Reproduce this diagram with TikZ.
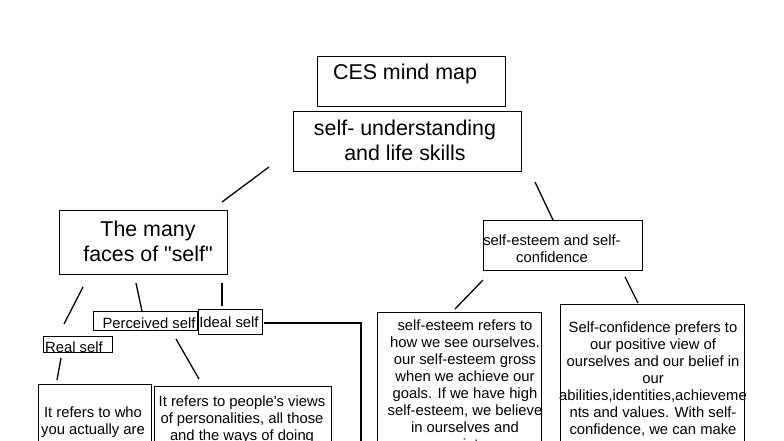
\documentclass[tikz,border=0pt]{standalone}
\usepackage{fontspec}
\setmainfont{Liberation Sans}[Ligatures=TeXOff]
\begin{document}
\begin{tikzpicture}[x=1pt,y=-1pt,
  bx/.style={draw, line width=1.4pt, inner sep=0pt, anchor=north west},
  big/.style={font=\fontsize{21.4}{24.6}\selectfont, align=center, inner sep=0pt, anchor=north},
  small/.style={font=\fontsize{14.8}{17}\selectfont, align=center, inner sep=0pt, anchor=north},
  link/.style={line width=1.3pt}]
\useasboundingbox (0,0) rectangle (784,441);
\clip (0,0) rectangle (784,441);
\fill[white] (0,0) rectangle (784,441);
% boxes
\node[bx, minimum width=188, minimum height=50] (ces) at (317,56) {};
\node[bx, minimum width=228, minimum height=60] (su) at (293,111) {};
\node[bx, minimum width=168, minimum height=64] (faces) at (59,210) {};
\node[bx, minimum width=159, minimum height=50] (sesc) at (483,220) {};
\node[bx, minimum width=104, minimum height=19] (perc) at (93,311) {};
\node[bx, minimum width=64, minimum height=25] (ideal) at (198,309) {};
\node[bx, minimum width=69, minimum height=16] (real) at (43,336) {};
\node[bx, minimum width=113, minimum height=100] (rw) at (38,384) {};
\node[bx, minimum width=177, minimum height=100] (pv) at (154,386) {};
\node[bx, minimum width=164, minimum height=200] (se) at (377,312) {};
\node[bx, minimum width=184, minimum height=200] (sc) at (560,304) {};
% texts
\node[big] (cest) at (405,64) {CES mind map};
\node[big] (sut) at (405,120) {self- understanding\\and life skills};
\node[big] (facest) at (148,221) {The many\\faces of "self"};
\node[small] (sesct) at (552,235) {self-esteem and self-\\confidence};
\node[small] (perct) at (149,318) {Perceived self};
\node[small] (idealt) at (229,317) {Ideal self};
\node[small] (realt) at (74,342) {Real self};
\node[small] (rwt) at (93,407) {It refers to who\\you actually are};
\node[small] (pvt) at (242,396) {It refers to people's views\\of personalities, all those\\and the ways of doing};
\node[small] (set) at (465,320) {self-esteem refers to\\how we see ourselves.\\our self-esteem gross\\when we achieve our\\goals. If we have high\\self-esteem, we believe\\in ourselves and\\appreciate our};
\node[small] (sct) at (653,322) {Self-confidence prefers to\\our positive view of\\ourselves and our belief in\\our\\abilities,identities,achieveme\\nts and values. With self-\\confidence, we can make};
% connector ends
\coordinate (a1) at (269,167); \coordinate (a2) at (222,202);
\coordinate (b1) at (535,182); \coordinate (b2) at (553,220);
\coordinate (c1) at (83,287);  \coordinate (c2) at (64,324);
\coordinate (d1) at (136,283); \coordinate (d2) at (142,311);
\coordinate (e1) at (222,283); \coordinate (e2) at (222,306);
\coordinate (f1) at (61,358);  \coordinate (f2) at (57,380);
\coordinate (g1) at (176,339); \coordinate (g2) at (199,379);
\coordinate (h1) at (483,280); \coordinate (h2) at (455,309);
\coordinate (k1) at (625,277); \coordinate (k2) at (638,303);
\coordinate (i1) at (264,323); \coordinate (i2) at (361,323); \coordinate (i3) at (361,460);
\draw[link] (a1) -- (a2);
\draw[link] (b1) -- (b2);
\draw[link] (c1) -- (c2);
\draw[link] (d1) -- (d2);
\draw[link] (e1) -- (e2);
\draw[link] (f1) -- (f2);
\draw[link] (g1) -- (g2);
\draw[link] (h1) -- (h2);
\draw[link] (k1) -- (k2);
\draw[link] (i1) -- (i2) -- (i3);
\end{tikzpicture}
\end{document}
